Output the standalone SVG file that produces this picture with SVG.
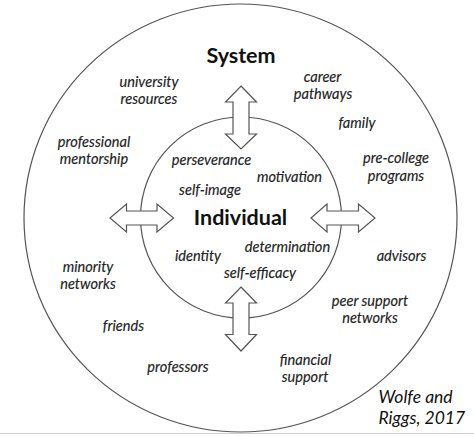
<svg xmlns="http://www.w3.org/2000/svg" width="474" height="437" viewBox="0 0 474 437">
<style>
.ring{fill:none;stroke:#555;stroke-width:1.2}
.arr{fill:#fff;stroke:#555;stroke-width:1.2;stroke-linejoin:miter}
.t{font-family:Lato,"Open Sans",sans-serif;font-style:italic;font-size:14.6px;fill:#222;stroke:#222;stroke-width:0.15;text-anchor:middle}
.h{font-family:Lato,"Open Sans",sans-serif;font-weight:bold;font-size:21.5px;fill:#111;text-anchor:middle}
.c{font-family:Lato,"Open Sans",sans-serif;font-style:italic;font-size:17.5px;fill:#111}
</style>
<rect width="474" height="437" fill="#fff"/>
<line x1="0" y1="433.5" x2="474" y2="433.5" stroke="#d0d0d0" stroke-width="1"/>
<g id="system">
<ellipse class="ring" cx="240.5" cy="218" rx="216.5" ry="214"/>
<text class="h" x="241" y="62.5">System</text>
</g>
<g id="individual">
<circle class="ring" cx="241" cy="217.5" r="100.5"/>
<text class="h" x="240.5" y="225">Individual</text>
</g>
<g id="connectors">
<path class="arr" d="M241,86 L256.5,102 L249,102 L249,134 L256.5,134 L241,149 L225.5,134 L233,134 L233,102 L225.5,102 Z"/>
<path class="arr" d="M241,287 L256.5,303 L249,303 L249,334.5 L256.5,334.5 L241,351 L225.5,334.5 L233,334.5 L233,303 L225.5,303 Z"/>
<path class="arr" d="M110,218 L126.5,204 L126.5,211 L157,211 L157,204 L173.5,218 L157,232 L157,225 L126.5,225 L126.5,232 Z"/>
<path class="arr" d="M311,218 L327,204 L327,211 L358.5,211 L358.5,204 L375,218 L358.5,232 L358.5,225 L327,225 L327,232 Z"/>
</g>
<g id="system-factors">
<text class="t" x="149" y="86.5">university</text>
<text class="t" x="149" y="104">resources</text>
<text class="t" x="322.5" y="82">career</text>
<text class="t" x="323" y="99">pathways</text>
<text class="t" x="357" y="128">family</text>
<text class="t" x="94" y="147">professional</text>
<text class="t" x="94" y="164">mentorship</text>
<text class="t" x="396" y="163">pre-college</text>
<text class="t" x="396" y="181">programs</text>
<text class="t" x="401.5" y="260.5">advisors</text>
<text class="t" x="88" y="272">minority</text>
<text class="t" x="88" y="289">networks</text>
<text class="t" x="370" y="305.5">peer support</text>
<text class="t" x="370" y="323">networks</text>
<text class="t" x="123.5" y="330.5">friends</text>
<text class="t" x="305.5" y="364.5">financial</text>
<text class="t" x="305" y="381.5">support</text>
<text class="t" x="178" y="372">professors</text>
</g>
<g id="individual-factors">
<text class="t" x="211.5" y="164.5">perseverance</text>
<text class="t" x="289.5" y="181.5">motivation</text>
<text class="t" x="210" y="195">self-image</text>
<text class="t" x="287.5" y="251.5">determination</text>
<text class="t" x="198" y="260.5">identity</text>
<text class="t" x="260" y="278">self-efficacy</text>
</g>
<g id="citation">
<text class="c" x="378.5" y="402.5">Wolfe and</text>
<text class="c" x="378.5" y="423.5">Riggs, 2017</text>
</g>
</svg>
